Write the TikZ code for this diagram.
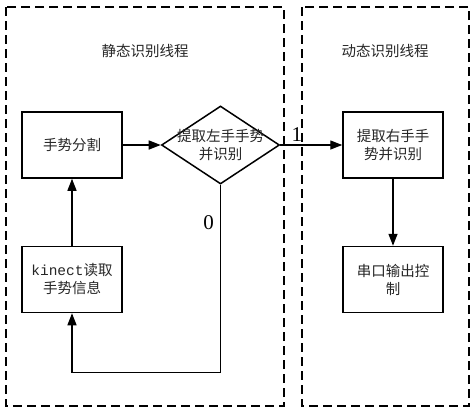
\documentclass[tikz,border=0pt]{standalone}
\usepackage{fontspec}
\setmainfont{Noto Sans CJK SC}
\setmonofont{Liberation Mono}
\newfontfamily\numfont{Liberation Serif}
\usepackage{tikz}
\usetikzlibrary{positioning}
\usetikzlibrary{arrows.meta}
\usetikzlibrary{shapes}
\tikzset{step box/.style={rectangle,draw,line width=1.5pt,minimum width=100pt,minimum height=66pt,inner sep=0pt,align=center,text=black!85,font=\fontsize{14.5}{18}\selectfont},
	thread frame/.style={draw,line width=2.4pt,dash pattern=on 9pt off 5pt},
	judge node/.style={diamond,draw,line width=1.5pt,minimum width=118pt,minimum height=78pt,inner sep=0pt},
	num label/.style={font=\numfont\fontsize{21}{21}\selectfont,inner sep=1pt},}

\begin{document}
\begin{tikzpicture}[x=1pt,y=-1pt,>={Triangle[length=12pt,width=9pt]},line width=1.4pt]
	\useasboundingbox (0,0) rectangle (474,413);
	% two threads
	\draw[thread frame] (6,7) rectangle (284,406);
	\draw[thread frame] (302,7) rectangle (469,406);
	\node[text=black!85,font=\fontsize{14.5}{18}\selectfont] (static) at (145,51) {静态识别线程};
	\node[text=black!85,font=\fontsize{14.5}{18}\selectfont] (dynamic) at (385,51) {动态识别线程};

	\node[step box] (seg) at (72,145) {手势分割};
	\node[step box] (kinect) [below=67pt of seg] {\texttt{kinect}读取\\手势信息};
	\node[judge node] (left) [right=38pt of seg] {};
	\node[align=center,text=black!85,font=\fontsize{14.5}{18}\selectfont] (lefttext) at (left.center) {提取左手手势\\并识别};
	\node[step box] (right) [right=62pt of left] {提取右手手\\势并识别};
	\node[step box] (serial) [below=67pt of right] {串口输出控\\制};

	\draw[->] (kinect) -- (seg);
	\draw[->] (seg) -- (left);
	\draw[->] (left.east) -- node[num label,pos=0.27,above=2pt] {1} (right.west);
	\draw[->] (right) -- (serial);
	\draw[->] (left.south) -- node[num label,pos=0.2,left=5pt] {0} ++(0,188) -| (kinect.south);
\end{tikzpicture}
\end{document}
